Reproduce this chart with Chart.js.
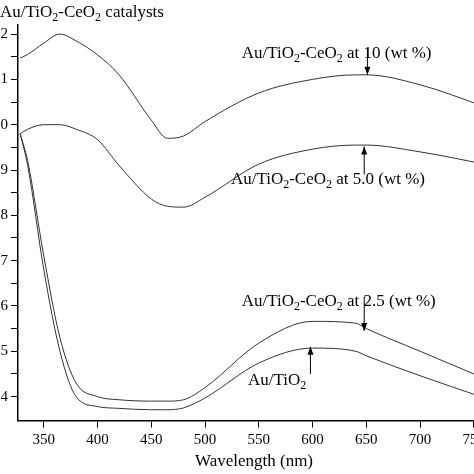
<!DOCTYPE html><html><head><script src="https://cdn.jsdelivr.net/npm/chart.js@4"></script>
<style>html,body{margin:0;overflow:hidden;background:#fff;width:474px;height:474px}#w{position:absolute;left:-40px;top:0;width:530px;height:474px}</style></head><body><div id="w"><canvas id="c"></canvas></div><script>
const wl=[328,335,350,365,380,400,420,450,465,480,500,550,600,640,650,700,760];
const s10=[1.147,1.155,1.18,1.2,1.185,1.154,1.11,1.01,0.97,0.975,1.007,1.07,1.10,1.11,1.11,1.088,1.04];
const s5=[0.98,0.99,1.0,1.0,0.99,0.967,0.91,0.836,0.82,0.818,0.84,0.913,0.946,0.955,0.955,0.94,0.913];
const s25=[0.98,0.92,0.71,0.53,0.43,0.40,0.393,0.39,0.39,0.393,0.42,0.518,0.566,0.562,0.55,0.50,0.44];
const sAu=[0.98,0.91,0.68,0.50,0.40,0.378,0.374,0.371,0.371,0.375,0.397,0.474,0.507,0.50,0.49,0.446,0.397];
const yTicks=[0.4,0.5,0.6,0.7,0.8,0.9,1.0,1.1,1.2];
const notes=[
 {t:['Au/TiO','2','-CeO','2',' at 10 (wt %)'],x:534,y:1.148,ax:651,a0:1.17,a1:1.11},
 {t:['Au/TiO','2','-CeO','2',' at 5.0 (wt %)'],x:524,y:0.87,ax:648,a0:0.89,a1:0.952},
 {t:['Au/TiO','2','-CeO','2',' at 2.5 (wt %)'],x:534,y:0.60,ax:648,a0:0.62,a1:0.545},
 {t:['Au/TiO','2'],x:540,y:0.425,ax:598,a0:0.45,a1:0.51}];
const F='"Liberation Serif",serif';
const mk=(d)=>({data:wl.map((x,i)=>({x,y:d[i]})),borderColor:'#333',borderWidth:1,pointRadius:0,cubicInterpolationMode:'monotone',fill:false});
new Chart(document.getElementById('c'),{type:'line',data:{datasets:[mk(s10),mk(s5),mk(s25),mk(sAu)]},
options:{responsive:true,maintainAspectRatio:false,animation:false,
layout:{padding:{top:25,right:0,left:0,bottom:0}},
plugins:{legend:{display:false},tooltip:{enabled:false}},
scales:{x:{type:'linear',min:326,max:765,border:{color:'#000',width:1.5},grid:{drawOnChartArea:false,tickLength:7,color:'#000'},
 afterBuildTicks:a=>{a.ticks=[350,400,450,500,550,600,650,700,750].map(v=>({value:v}))},
 ticks:{color:'#000',font:{family:F,size:15},maxRotation:0},
 title:{display:true,text:'Wavelength (nm)',color:'#000',font:{family:F,size:17},padding:{top:0,bottom:2}}},
 y:{min:0.347,max:1.22,border:{color:'#000',width:1.5},grid:{drawOnChartArea:false,tickLength:7,color:'#000'},
 afterFit:s=>{s.width=58},
 afterBuildTicks:a=>{const t=[];yTicks.forEach((v,i)=>{t.push({value:v});if(i<yTicks.length-1)t.push({value:+(v+0.05).toFixed(2)})});a.ticks=t},
 ticks:{color:'#000',font:{family:F,size:15},callback:v=>yTicks.some(t=>Math.abs(t-v)<1e-6)?v.toFixed(1):''}}}},
plugins:[{id:'ann',afterDraw(ch){const c=ch.ctx,X=ch.scales.x,Y=ch.scales.y;c.save();c.fillStyle='#000';c.strokeStyle='#000';
 const drawT=(parts,x,y)=>{let cx=x;parts.forEach((p,i)=>{if(i%2){c.font='12px '+F;c.fillText(p,cx,y+4);}else{c.font='17px '+F;c.fillText(p,cx,y);}cx+=c.measureText(p).width;});};
 drawT(['Au/TiO','2','-CeO','2',' catalysts'],40,17);
 notes.forEach(n=>{drawT(n.t,X.getPixelForValue(n.x),Y.getPixelForValue(n.y));
  const ax=X.getPixelForValue(n.ax),y0=Y.getPixelForValue(n.a0),y1=Y.getPixelForValue(n.a1),d=y1>y0?1:-1;
  c.lineWidth=1;c.beginPath();c.moveTo(ax,y0);c.lineTo(ax,y1);c.stroke();
  c.beginPath();c.moveTo(ax,y1);c.lineTo(ax-3,y1-8*d);c.lineTo(ax+3,y1-8*d);c.closePath();c.fill();});
 c.restore();}}]});
</script></body></html>
